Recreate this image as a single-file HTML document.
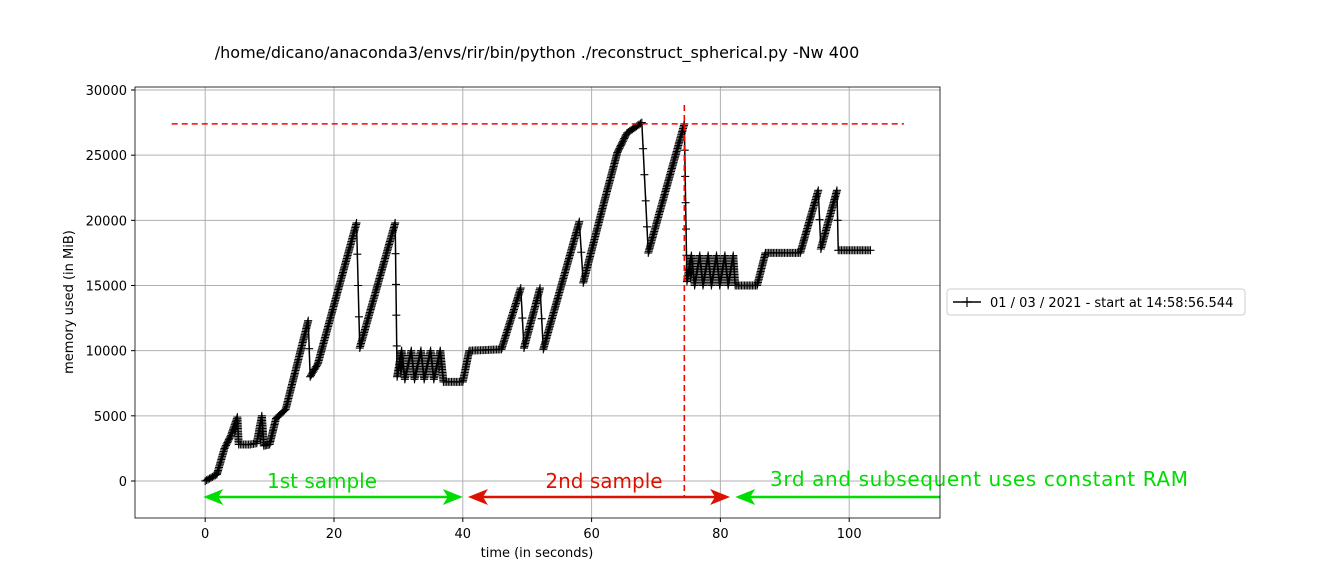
<!DOCTYPE html>
<html><head><meta charset="utf-8"><style>
body{margin:0;background:#fff;}
svg text{font-family:"DejaVu Sans","Liberation Sans",sans-serif;}
</style></head><body>
<svg id="chart" width="1344" height="576" xmlns="http://www.w3.org/2000/svg">
<text x="537" y="58" text-anchor="middle" font-size="16" fill="#000">/home/dicano/anaconda3/envs/rir/bin/python ./reconstruct_spherical.py -Nw 400</text>
<g id="grid"></g>
<g id="ticks"></g>
<g id="series"></g>
<g id="annot"></g>
<rect x="135" y="87" width="805" height="431" fill="none" stroke="#000" stroke-width="0.8"/>
<text x="537" y="557" text-anchor="middle" font-size="13">time (in seconds)</text>
<text transform="translate(73,302) rotate(-90)" text-anchor="middle" font-size="13">memory used (in MiB)</text>
<g>
<rect x="947" y="289" width="298" height="26" rx="3" fill="#fff" stroke="#ccc"/>
<line x1="953" y1="302" x2="981" y2="302" stroke="#000" stroke-width="1.5"/>
<path d="M967 297v10M962 302h10" stroke="#000" stroke-width="1.2"/>
<text x="990" y="307" font-size="13">01 / 03 / 2021 - start at 14:58:56.544</text>
</g>
</svg>
<script>
const xTicks=[0,20,40,60,80,100];
const yTicks=[0,5000,10000,15000,20000,25000,30000];
const times=[0,1.8,2,3,4,5,5.2,7,8,8.8,9.1,10,11,12.5,16,16.3,17.5,23.5,24,29.5,29.8,30.5,31,32,32.5,33.5,34,35,35.5,36.5,37,40,41,46,49,49.5,52,52.5,58.1,58.7,62,64,65.5,67.8,68.8,74.4,74.8,75.5,76,76.8,77.3,78.1,78.6,79.4,79.9,80.7,81.2,82,82.3,85.7,87,92.4,95.2,95.6,98.1,98.3,103.3];
const mem=[0,500,800,2500,3500,4900,2800,2800,2900,5000,2700,2800,4800,5500,12300,8000,9000,19800,10200,19800,8000,10000,7800,10000,7800,10000,7800,10000,7800,10000,7600,7600,10000,10100,14800,10200,14800,10100,19900,15200,21500,25200,26700,27500,17500,27400,15300,17300,15000,17300,15000,17300,15000,17300,15000,17300,15000,17300,15000,15000,17500,17500,22300,17800,22300,17700,17700];
const peakLevel=27400, peakTime=74.4;
const xMin=-10.9,xMax=114.1,yMin=-2840,yMax=30230;
const L=135,R=940,T=87,B=518;
const sx=v=>L+(v-xMin)/(xMax-xMin)*(R-L);
const sy=v=>B-(v-yMin)/(yMax-yMin)*(B-T);
const NS="http://www.w3.org/2000/svg";
function mk(tag,attrs,parent){const e=document.createElementNS(NS,tag);for(const k in attrs)e.setAttribute(k,attrs[k]);parent.appendChild(e);return e;}
const grid=document.getElementById('grid'),ticks=document.getElementById('ticks');
xTicks.forEach(v=>{const x=sx(v);
 const g=mk('line',{x1:x,x2:x,y1:T,y2:B,stroke:'#b0b0b0','stroke-width':1},grid);
 
 
 mk('line',{x1:x,x2:x,y1:B,y2:B+4,stroke:'#000'},ticks);
 const t=mk('text',{x:x,y:B+20,'text-anchor':'middle','font-size':13},ticks);t.textContent=v;
 
 
});
yTicks.forEach(v=>{const y=sy(v);
 const g=mk('line',{x1:L,x2:R,y1:y,y2:y,stroke:'#b0b0b0','stroke-width':1},grid);
 
 
 mk('line',{x1:L-4,x2:L,y1:y,y2:y,stroke:'#000'},ticks);
 const t=mk('text',{x:L-8,y:y+5,'text-anchor':'end','font-size':13},ticks);t.textContent=v;
 
 
});
const ser=document.getElementById('series');
const pts=times.map((t,i)=>sx(t)+','+sy(mem[i])).join(' ');
const line=mk('polyline',{points:pts,fill:'none',stroke:'#000','stroke-width':1.5},ser);


let d='';
for(let i=0;i<times.length-1;i++){
 const x0=sx(times[i]),y0=sy(mem[i]),x1=sx(times[i+1]),y1=sy(mem[i+1]);
 const len=Math.hypot(x1-x0,y1-y0);
 const bigDrop=(mem[i]-mem[i+1])>4000;
 const step=bigDrop?28:1.6;const n=Math.max(1,Math.round(len/step));
 for(let k=0;k<n;k++){const x=x0+(x1-x0)*k/n,y=y0+(y1-y0)*k/n;d+=`M${x-4} ${y}h8M${x} ${y-4}v8`;}
}
const last=times.length-1;d+=`M${sx(times[last])-4} ${sy(mem[last])}h8M${sx(times[last])} ${sy(mem[last])-4}v8`;
const mkr=mk('path',{d:d,stroke:'#000','stroke-width':1.1,fill:'none'},ser);


const an=document.getElementById('annot');
const h=mk('line',{x1:sx(-5.2),x2:sx(108.5),y1:sy(peakLevel),y2:sy(peakLevel),stroke:'#f00','stroke-width':1.6,'stroke-dasharray':'6,4'},an);


const v=mk('line',{x1:sx(peakTime),x2:sx(peakTime),y1:105,y2:497,stroke:'#f00','stroke-width':1.6,'stroke-dasharray':'6,4'},an);


function arrow(x1,x2,col,both,name){
 const y=497;
 const l=mk('line',{x1:x1+8,x2:both?x2-8:x2,y1:y,y2:y,stroke:col,'stroke-width':2.5},an);
 
 
 mk('path',{d:`M${x1} ${y}l20 -8l-5 8l5 8z`,fill:col},an);
 if(both)mk('path',{d:`M${x2} ${y}l-20 -8l5 8l-5 8z`,fill:col},an);
}
arrow(sx(-0.3),sx(40),'#00dd00',true,'first-sample-arrow');
arrow(sx(40.8),sx(81.5),'#dd1100',true,'second-sample-arrow');
arrow(sx(82.3),940,'#00dd00',false,'third-sample-arrow');
[['1st sample',322,488,'#00dd00','first-sample-label'],['2nd sample',604,488,'#dd1100','second-sample-label']].forEach(a=>{
 const t=mk('text',{x:a[1],y:a[2],'text-anchor':'middle','font-size':20,fill:a[3]},an);t.textContent=a[0];
 
 
});
const t3=mk('text',{x:770,y:486,'font-size':20,fill:'#00dd00',textLength:418},an);t3.textContent='3rd and subsequent uses constant RAM';


</script>
</body></html>
